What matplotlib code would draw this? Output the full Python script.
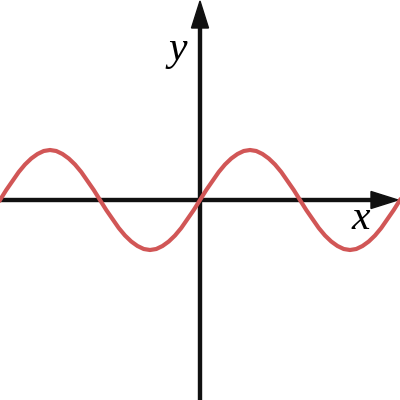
import matplotlib
matplotlib.use("Agg")
import matplotlib.pyplot as plt

# curve points (x step 0.125, axes run -4..4)
xs = [-4 + 0.125 * i for i in range(65)]
ys = [0, 0.20, 0.38, 0.56, 0.71, 0.83, 0.92, 0.98,
      1, 0.98, 0.92, 0.83, 0.71, 0.56, 0.38, 0.20,
      0, -0.20, -0.38, -0.56, -0.71, -0.83, -0.92, -0.98,
      -1, -0.98, -0.92, -0.83, -0.71, -0.56, -0.38, -0.20,
      0, 0.20, 0.38, 0.56, 0.71, 0.83, 0.92, 0.98,
      1, 0.98, 0.92, 0.83, 0.71, 0.56, 0.38, 0.20,
      0, -0.20, -0.38, -0.56, -0.71, -0.83, -0.92, -0.98,
      -1, -0.98, -0.92, -0.83, -0.71, -0.56, -0.38, -0.20,
      0]

curve_color = '#d15656'
axis_color = '#111111'

fig = plt.figure(figsize=(4, 4), dpi=100)
ax = fig.add_axes([0, 0, 1, 1])
ax.set_xlim(-4, 4)
ax.set_ylim(-4, 4)
ax.axis('off')

# axes with arrowheads
ax.arrow(-4.1, 0, 8.06, 0, width=0.06, head_width=0.34, head_length=0.54,
         length_includes_head=True, color=axis_color, zorder=1)
ax.arrow(0, -4.1, 0, 8.08, width=0.06, head_width=0.34, head_length=0.54,
         length_includes_head=True, color=axis_color, zorder=1)

ax.plot(xs, ys, color=curve_color, lw=3.0, solid_joinstyle='round', zorder=2)

ax.text(-0.44, 3.0, 'y', fontsize=30, family='Liberation Serif', style='italic',
        ha='center', va='center')
ax.text(3.22, -0.38, 'x', fontsize=30, family='Liberation Serif', style='italic',
        ha='center', va='center')

fig.savefig('out.png', dpi=100)
